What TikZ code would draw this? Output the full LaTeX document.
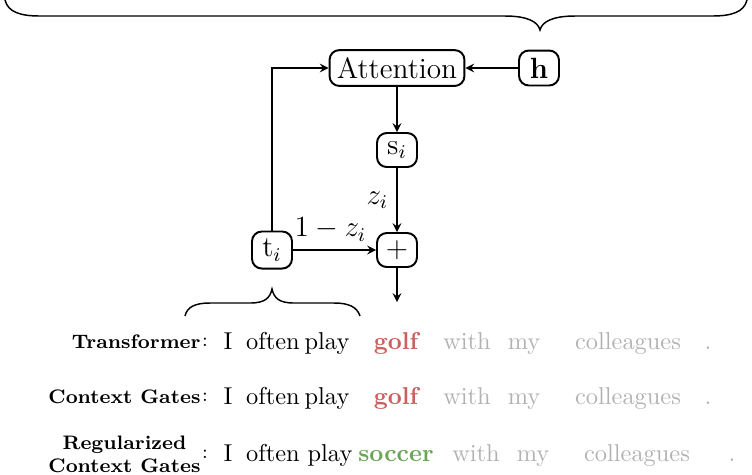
\documentclass[tikz,border=0pt]{standalone}
\usepackage{amsmath}
\begin{document}
\begin{tikzpicture}[x=0.41pt,y=-0.41pt,
  box/.style={draw,thick,rounded corners=4pt,minimum height=34*0.41pt,inner sep=3pt,font=\large},
  arr/.style={-stealth,semithick},
  lab/.style={anchor=east,font=\footnotesize\bfseries,align=center,inner sep=0pt},
  w/.style={anchor=base},
  g/.style={anchor=base,text=black!30}]
\useasboundingbox (0,0) rectangle (752,474);
\definecolor{gred}{RGB}{205,95,95}
\definecolor{ggreen}{RGB}{105,165,85}
% top brace
\draw[semithick] (5,0) .. controls (8,12) and (20,16) .. (40,16) -- (505,16) .. controls (528,16) and (538,22) .. (540,30)
  .. controls (542,22) and (552,16) .. (575,16) -- (712,16) .. controls (732,16) and (744,12) .. (747,0);
\node[box,minimum width=132*0.41pt] (att) at (397,68) {Attention};
\node[box,minimum width=40*0.41pt] (h) at (539,68) {$\mathbf{h}$};
\node[box,minimum width=40*0.41pt] (s) at (397,150) {s$_i$};
\node[box,minimum width=40*0.41pt] (p) at (397,250) {$+$};
\node[box,minimum width=40*0.41pt] (t) at (272,250) {t$_i$};
\coordinate (o) at (397,302);
\draw[arr] (h) -- (att);
\draw[arr] (t.north) |- (att.west);
\draw[arr] (att) -- (s);
\draw[arr] (s) -- node[left,font=\large]{$z_i$} (p);
\draw[arr] (t) -- node[above,font=\large,pos=0.45]{$1-z_i$} (p);
\draw[arr] (p) -- (o);
% small brace
\draw[semithick] (185,316) .. controls (187,307) and (195,303) .. (210,303) -- (250,303) .. controls (265,303) and (270,298) .. (272,289)
  .. controls (274,298) and (279,303) .. (294,303) -- (334,303) .. controls (349,303) and (357,307) .. (360,316);
% rows
\foreach \y/\l/\word/\col in {342/{Transformer}/golf/gred, 397/{Context Gates}/golf/gred, 454/{Regularized\\Context Gates}/soccer/ggreen}{
  \node[lab] (l\y) at (201,\y) {\l};
  \node[anchor=base,inner sep=0pt,font=\footnotesize] (c\y) at (205,\y+4) {:};
  \node[w] (i\y) at (228,\y+7) {I};
  \node[w] (of\y) at (273,\y+7) {often};
  \node[w,font=\bfseries,text=\col] (k\y) at (396,\y+7) {\word};
}
\foreach \y/\dx in {342/0,397/0,454/3}{
  \node[w] (pl\y) at (327+\dx,\y+7) {play};
  \node[g] (wi\y) at (467+\dx*3,\y+7) {with};
  \node[g] (my\y) at (524+\dx*3,\y+7) {my};
  \node[g] (co\y) at (628+\dx*3,\y+7) {colleagues};
  \node[g] (d\y) at (708+\dx*8,\y+7) {.};
}
\end{tikzpicture}
\end{document}
